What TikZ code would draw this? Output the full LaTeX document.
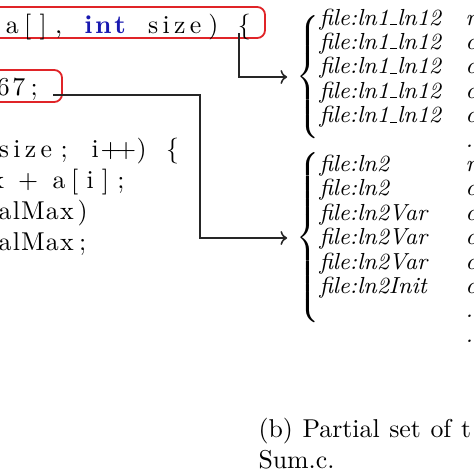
\documentclass[tikz,border=0pt]{standalone}
\usepackage{xcolor}
\usepackage{tikz}
\usetikzlibrary{arrows.meta}

\definecolor{hired}{RGB}{224,36,40}
\definecolor{kwblue}{RGB}{24,24,176}
\newlength\cw
\setlength\cw{6pt}
\newcommand\cu[2]{\hbox to #1\cw{\hss#2\hss}}
\newcommand\us{\kern.06em\vbox{\hrule width.3em}}

\begin{document}
\begin{tikzpicture}[x=0.3876pt, y=-0.3876pt,
  ln/.style={anchor=base west, inner sep=0pt, font=\normalsize},
  hl/.style={draw=hired, line width=0.7pt, rounded corners=3pt},
  br/.style={anchor=west, inner sep=0pt, font=\small},
  tb/.style={anchor=base west, inner sep=0pt, font=\small\itshape},
  arr/.style={-{To[length=2.6pt, width=5.4pt]}, line width=0.6pt, black!85,
              shorten >=3.4pt},
  captxt/.style={anchor=base west, inner sep=0pt, font=\normalsize}]

\useasboundingbox (0,0) rectangle (474,474);
\clip (0,0) rectangle (474,474);

\draw[hl] (-30,7) rectangle (265,38);
\draw[hl] (-30,70) rectangle (62,102);

\node[ln] (l1) at (4,33) {\cu1{a}\cu1{[}\cu1{]}\cu1{,}\cu1{}%
  \cu3{\color{kwblue}\bfseries i\hss n\hss t}\cu1{}\cu4{s\hss i\hss z\hss e}%
  \cu1{)}\cu1{}\cu1{\{}};
\node[ln] (l3) at (-5,95) {\cu1{6}\cu1{7}\cu1{;}};
\node[ln] (l5) at (-6,157) {\cu4{s\hss i\hss z\hss e}\cu1{;}\cu1{}\cu1{i}%
  \cu1{+}\cu1{+}\cu1{)}\cu1{}\cu1{\{}};
\node[ln] (l6) at (-11,188) {\cu1{x}\cu1{}\cu1{+}\cu1{}\cu1{a}\cu1{[}%
  \cu1{i}\cu1{]}\cu1{;}};
\node[ln] (l7) at (-3,219) {\cu5{a\hss l\hss M\hss a\hss x}\cu1{)}};
\node[ln] (l8) at (-3,250) {\cu5{a\hss l\hss M\hss a\hss x}\cu1{;}};

\coordinate (m1) at (239,33);
\coordinate (m2) at (53,95);
\coordinate (k2) at (200,95);

\node[br] (brA) at (296,77) {\makebox[7pt][l]{$\delimiterfactor=1000
  \delimitershortfall=0pt \nulldelimiterspace=0pt
  \left\{\vrule height 25.6pt depth 21.6pt width 0pt\right.$}};
\node[br] (brB) at (296,238) {\makebox[7pt][l]{$\delimiterfactor=1000
  \delimitershortfall=0pt \nulldelimiterspace=0pt
  \left\{\vrule height 32pt depth 28pt width 0pt\right.$}};

\node[tb] (rows) at (319,25) {\renewcommand\arraystretch{0.86}%
\begin{tabular}[t]{@{}p{56.6pt}@{}l@{}}
file:ln1\us ln12 & r\\
file:ln1\us ln12 & c\\
file:ln1\us ln12 & c\\
file:ln1\us ln12 & c\\
file:ln1\us ln12 & c\\
 & .\\
file:ln2 & r\\
file:ln2 & c\\
file:ln2Var & c\\
file:ln2Var & c\\
file:ln2Var & c\\
file:ln2Init & c\\
 & .\\
 & .
\end{tabular}};

\draw[arr] (m1) |- (brA.west);
\draw[arr] (m2) -- (k2) |- (brB.west);

\node[captxt] (capA) at (258,437) {\hbox spread 1.6pt{(b) Partial set of t}};
\node[captxt] (capB) at (258,468) {Sum.c.};
\end{tikzpicture}
\end{document}
